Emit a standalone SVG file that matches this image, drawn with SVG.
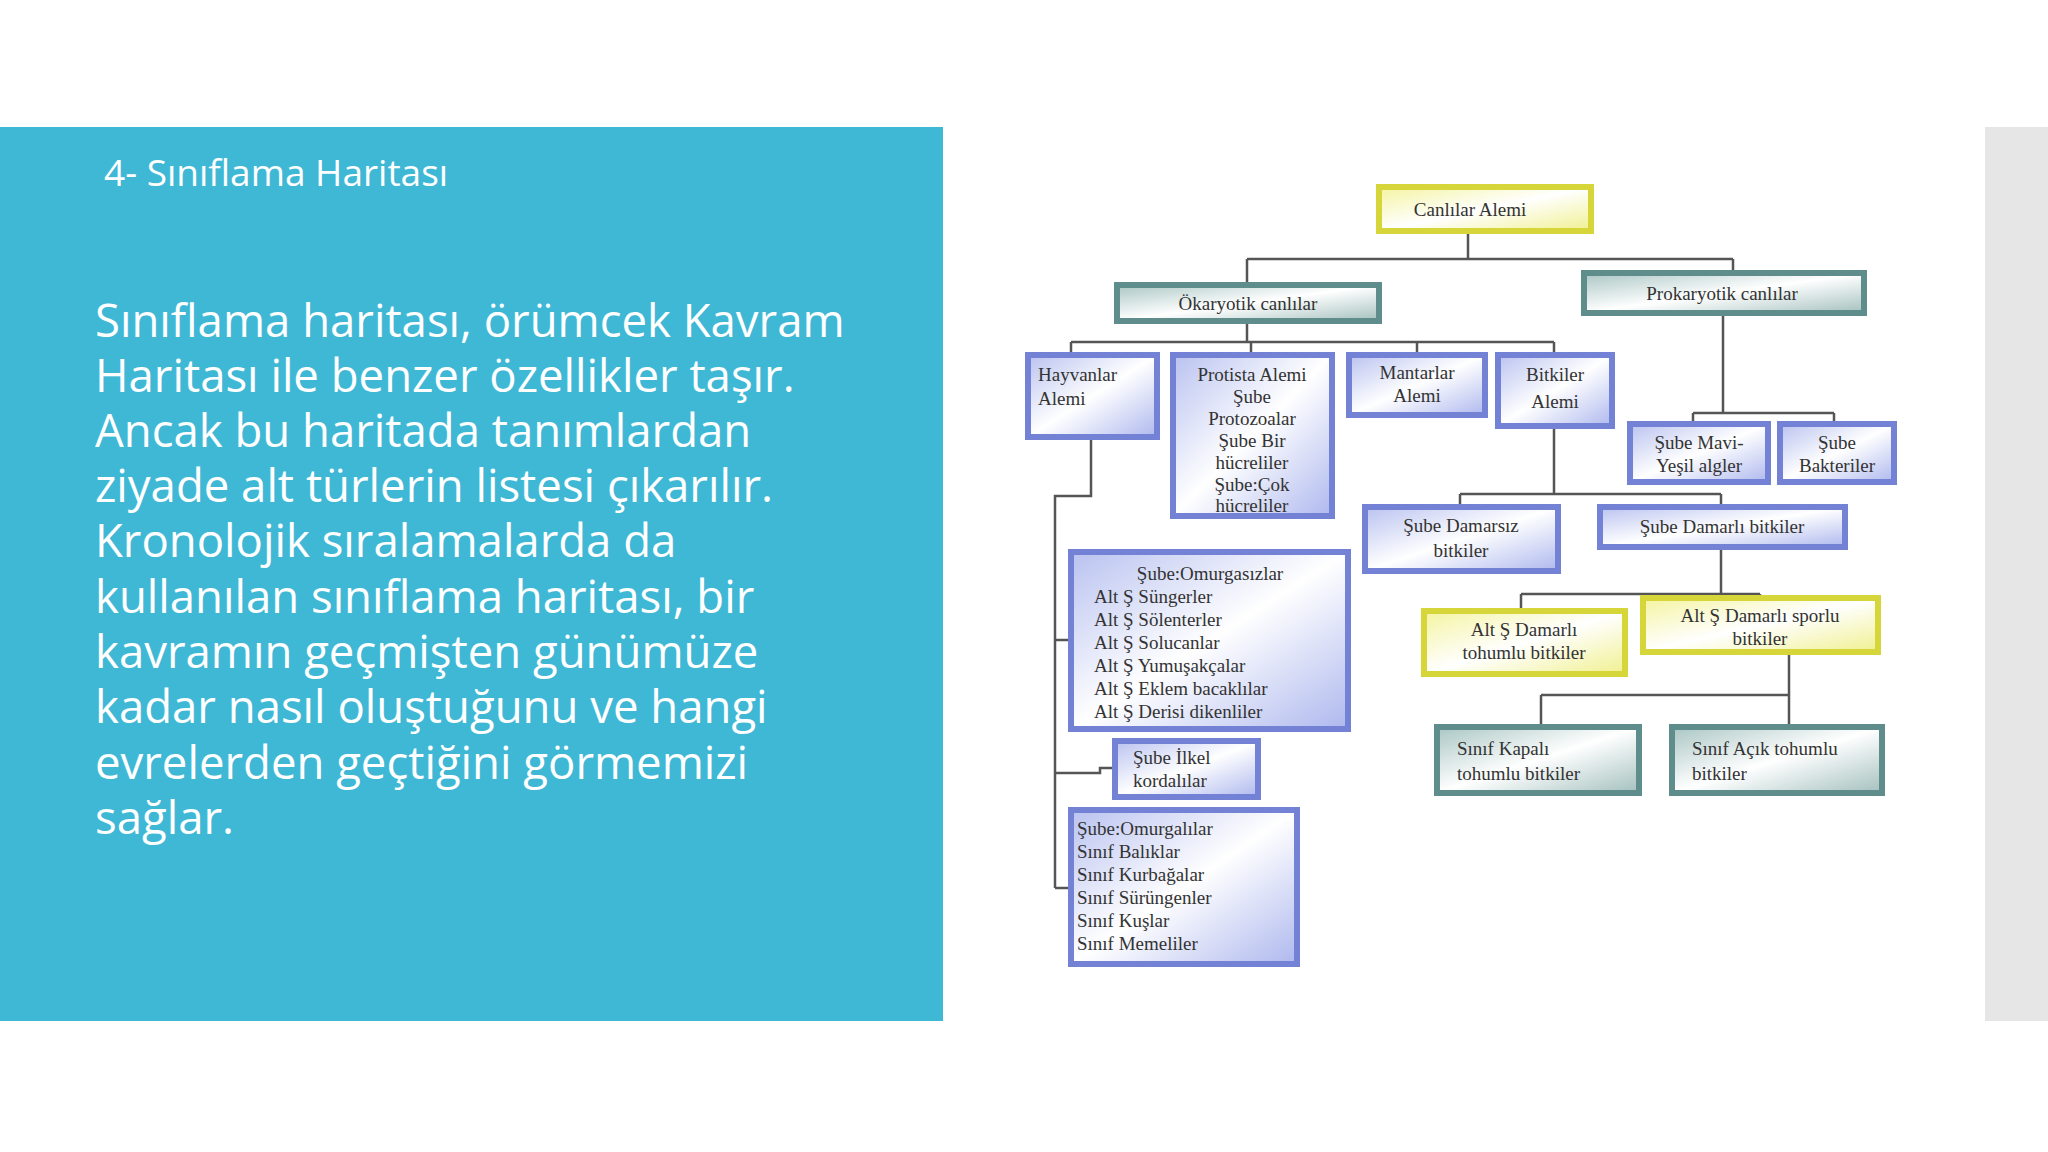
<svg xmlns="http://www.w3.org/2000/svg" width="2048" height="1152" viewBox="0 0 2048 1152">
<defs>
<linearGradient id="gb" x1="0" y1="0" x2="1" y2="1"><stop offset="0" stop-color="#b9c2f0"/><stop offset="0.5" stop-color="#ffffff"/><stop offset="1" stop-color="#aeb8ee"/></linearGradient>
<linearGradient id="gy" x1="0" y1="0" x2="1" y2="1"><stop offset="0" stop-color="#f4f4a0"/><stop offset="0.5" stop-color="#ffffff"/><stop offset="1" stop-color="#f0f090"/></linearGradient>
<linearGradient id="gt" x1="0" y1="0" x2="1" y2="1"><stop offset="0" stop-color="#a9c6c4"/><stop offset="0.5" stop-color="#ffffff"/><stop offset="1" stop-color="#a3c0be"/></linearGradient>
<clipPath id="cp"><rect x="1173" y="355" width="159" height="158"/></clipPath>
<style>
.b{fill:url(#gb);stroke:#7482d6;stroke-width:6}
.y{fill:url(#gy);stroke:#d6d63a;stroke-width:6}
.t{fill:url(#gt);stroke:#5f8d8b;stroke-width:6}
.l{font-family:"Liberation Serif",serif;font-size:19px;fill:#333;text-anchor:middle}
.ll{font-family:"Liberation Serif",serif;font-size:19px;fill:#333}
.c{fill:none;stroke:#555;stroke-width:2.5}
.w{font-family:"Open Sans","Noto Sans",sans-serif;fill:#fff}
</style>
</defs>
<rect width="2048" height="1152" fill="#fff"/>
<rect x="0" y="127" width="943" height="894" fill="#3fb8d6"/>
<rect x="1985" y="127" width="63" height="894" fill="#e6e6e6"/>
<text class="w" x="104" y="186" font-size="37">4- Sınıflama Haritası</text>
<g class="w" font-size="45.5">
<text x="95" y="337">Sınıflama haritası, örümcek Kavram</text>
<text x="95" y="392">Haritası ile benzer özellikler taşır.</text>
<text x="95" y="447">Ancak bu haritada tanımlardan</text>
<text x="95" y="502">ziyade alt türlerin listesi çıkarılır.</text>
<text x="95" y="557">Kronolojik sıralamalarda da</text>
<text x="95" y="613">kullanılan sınıflama haritası, bir</text>
<text x="95" y="668">kavramın geçmişten günümüze</text>
<text x="95" y="723">kadar nasıl oluştuğunu ve hangi</text>
<text x="95" y="779">evrelerden geçtiğini görmemizi</text>
<text x="95" y="834">sağlar.</text>
</g>
<g id="connectors" class="c">
<path d="M1468 231V259M1247 259H1733M1247 259V285M1733 259V273"/>
<path d="M1247 321V342M1071 342H1554M1071 342V355M1251 342V355M1417 342V355M1554 342V355"/>
<path d="M1723 313V413M1693 413H1834M1693 413V424M1834 413V424"/>
<path d="M1554 426V494M1460 494H1721M1460 494V507M1721 494V507"/>
<path d="M1091 437V496H1055V888M1055 640H1071M1055 773H1100V768H1115M1055 888H1071"/>
<path d="M1721 547V594M1521 594H1760M1521 594V611M1760 594V598"/>
<path d="M1789 652V695H1541M1541 695V727M1789 695V727"/>
</g>
<g id="n1"><rect class="y" x="1379" y="187" width="212" height="44"/><text class="l" x="1470" y="216">Canlılar Alemi</text></g>
<g id="n2"><rect class="t" x="1117" y="285" width="262" height="36"/><text class="l" x="1248" y="310">Ökaryotik canlılar</text></g>
<g id="n3"><rect class="t" x="1584" y="273" width="280" height="40"/><text class="l" x="1722" y="300">Prokaryotik canlılar</text></g>
<g id="n4"><rect class="b" x="1028" y="355" width="129" height="82"/><text class="ll" x="1038" y="381">Hayvanlar</text><text class="ll" x="1038" y="405">Alemi</text></g>
<g id="n5"><rect class="b" x="1173" y="355" width="159" height="161"/><g class="l" font-size="17px" clip-path="url(#cp)"><text x="1252" y="381">Protista Alemi</text><text x="1252" y="403">Şube</text><text x="1252" y="425">Protozoalar</text><text x="1252" y="447">Şube Bir</text><text x="1252" y="469">hücreliler</text><text x="1252" y="491">Şube:Çok</text><text x="1252" y="512">hücreliler</text></g></g>
<g id="n6"><rect class="b" x="1349" y="355" width="136" height="60"/><text class="l" x="1417" y="379">Mantarlar</text><text class="l" x="1417" y="402">Alemi</text></g>
<g id="n7"><rect class="b" x="1498" y="355" width="114" height="71"/><text class="l" x="1555" y="381">Bitkiler</text><text class="l" x="1555" y="408">Alemi</text></g>
<g id="n8"><rect class="b" x="1630" y="424" width="138" height="58"/><text class="l" x="1699" y="449">Şube Mavi-</text><text class="l" x="1699" y="472">Yeşil algler</text></g>
<g id="n9"><rect class="b" x="1780" y="424" width="114" height="58"/><text class="l" x="1837" y="449">Şube</text><text class="l" x="1837" y="472">Bakteriler</text></g>
<g id="n10"><rect class="b" x="1365" y="507" width="193" height="64"/><text class="l" x="1461" y="532">Şube Damarsız</text><text class="l" x="1461" y="557">bitkiler</text></g>
<g id="n11"><rect class="b" x="1600" y="507" width="245" height="40"/><text class="l" x="1722" y="533">Şube Damarlı bitkiler</text></g>
<g id="n12"><rect class="b" x="1071" y="552" width="277" height="177"/><text class="l" x="1210" y="580">Şube:Omurgasızlar</text><g class="ll"><text x="1094" y="603">Alt Ş Süngerler</text><text x="1094" y="626">Alt Ş Sölenterler</text><text x="1094" y="649">Alt Ş Solucanlar</text><text x="1094" y="672">Alt Ş Yumuşakçalar</text><text x="1094" y="695">Alt Ş Eklem bacaklılar</text><text x="1094" y="718">Alt Ş Derisi dikenliler</text></g></g>
<g id="n13"><rect class="y" x="1424" y="611" width="201" height="63"/><text class="l" x="1524" y="636">Alt Ş Damarlı</text><text class="l" x="1524" y="659">tohumlu bitkiler</text></g>
<g id="n14"><rect class="y" x="1643" y="598" width="235" height="54"/><text class="l" x="1760" y="622">Alt Ş Damarlı sporlu</text><text class="l" x="1760" y="645">bitkiler</text></g>
<g id="n15"><rect class="b" x="1115" y="741" width="143" height="56"/><text class="ll" x="1133" y="764">Şube İlkel</text><text class="ll" x="1133" y="787">kordalılar</text></g>
<g id="n16"><rect class="t" x="1437" y="727" width="202" height="66"/><text class="ll" x="1457" y="755">Sınıf Kapalı</text><text class="ll" x="1457" y="780">tohumlu bitkiler</text></g>
<g id="n17"><rect class="t" x="1672" y="727" width="210" height="66"/><text class="ll" x="1692" y="755">Sınıf Açık tohumlu</text><text class="ll" x="1692" y="780">bitkiler</text></g>
<g id="n18"><rect class="b" x="1071" y="810" width="226" height="154"/><g class="ll"><text x="1077" y="835">Şube:Omurgalılar</text><text x="1077" y="858">Sınıf Balıklar</text><text x="1077" y="881">Sınıf Kurbağalar</text><text x="1077" y="904">Sınıf Sürüngenler</text><text x="1077" y="927">Sınıf Kuşlar</text><text x="1077" y="950">Sınıf Memeliler</text></g></g>
</svg>
